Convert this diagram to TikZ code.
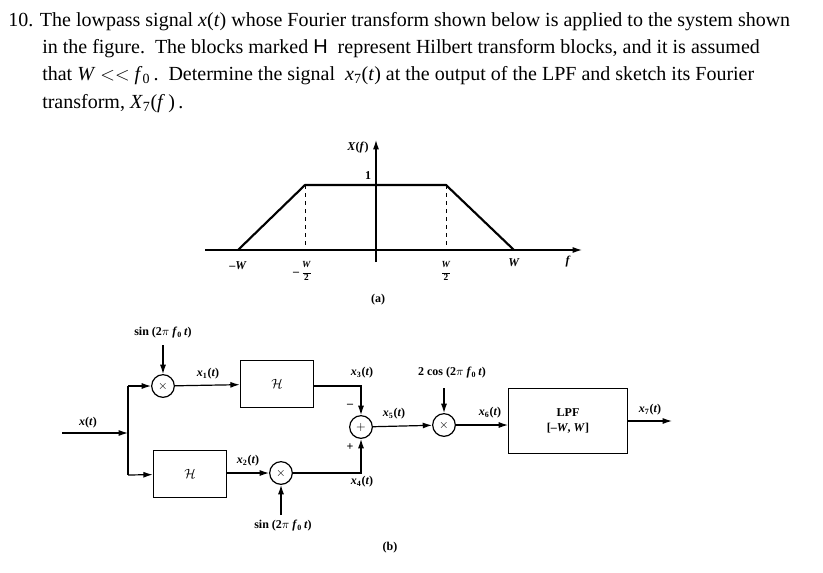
\documentclass[tikz,border=0pt]{standalone}
\usepackage{fontspec}
\setmainfont{Liberation Serif}
\newfontfamily\sansf{Liberation Sans}
\usetikzlibrary{arrows.meta}
\newcommand{\iv}[1]{\textit{#1}}
\newcommand{\fr}[1]{\ensuremath{\vcenter{\hbox{\scriptsize\begin{tabular}{@{}c@{}}\iv{#1}\\[-3pt]\rule{6pt}{0.5pt}\\[-3pt]2\end{tabular}}}}}
\begin{document}
\begin{tikzpicture}[x=0.75pt,y=-0.75pt,
  wire/.style={line width=0.9pt},
  arr/.style={wire,-{Latex[length=7pt,width=4.5pt]}},
  blk/.style={draw,line width=0.9pt,minimum width=55pt,minimum height=35pt},
  op/.style={draw,circle,line width=0.9pt,minimum size=17pt,inner sep=0pt,font=\small},
  lab/.style={font=\small\bfseries},
  hd/.style={anchor=west,font=\fontsize{15}{17}\selectfont,inner sep=0pt}]
\useasboundingbox (0,0) rectangle (823,572);
% header
\node[hd] (h1) at (8,22) {10. The lowpass signal \iv{x}(\iv{t}) whose Fourier transform shown below is applied to the system shown};
\node[hd] (h2) at (42,49) {in the figure.\ \ The blocks marked {\sansf H} \ represent Hilbert transform blocks, and it is assumed};
\node[hd] (h3) at (42,76) {that \iv{W} $<<$ \iv{f}\textsubscript{0}\,.\ \ Determine the signal \ \iv{x}\textsubscript{7}(\iv{t}) at the output of the LPF and sketch its Fourier};
\node[hd] (h4) at (42,104) {transform, \iv{X}\textsubscript{7}(\iv{f}\,)\,.};
% spectrum
\coordinate (ax0) at (205,250); \coordinate (ax1) at (582,250);
\coordinate (ay0) at (376,262); \coordinate (ay1) at (376,140);
\draw[arr] (ax0) -- (ax1);
\draw[arr] (ay0) -- (ay1);
\coordinate (p1) at (238,250); \coordinate (p2) at (305,185);
\coordinate (p3) at (446,185); \coordinate (p4) at (514,250);
\draw[line width=1.6pt] (p1) -- (p2) -- (p3) -- (p4);
\draw[dashed] (p2) -- (305,250);
\draw[dashed] (p3) -- (446,250);
\node[lab] (Xf) at (358,148) {\iv{X}(\iv{f})};
\node[lab] (one) at (368,176) {1};
\node[lab] (mw) at (238,266) {--\iv{W}};
\node[lab,inner sep=0pt] (mw2) at (302,272) {-- \fr{W}};
\node[lab,inner sep=0pt] (w2) at (446,272) {\fr{W}};
\node[lab] (w) at (514,263) {\iv{W}};
\node[lab] (f) at (568,262) {\iv{f}};
\node[lab] (a) at (378,300) {(a)};
% block diagram
\node[op] (m1) at (163,386) {$\times$};
\node[blk] (H1) at (277,384) {$\mathcal{H}$};
\node[blk] (H2) at (190,474) {$\mathcal{H}$};
\node[op] (m2) at (281,473) {$\times$};
\node[op] (s) at (361,427) {$+$};
\node[op] (m3) at (444,425) {$\times$};
\node[draw,line width=0.9pt,minimum width=89pt,minimum height=49pt,align=center,font=\small\bfseries] (lpf) at (568,421) {LPF\\{}[--\iv{W}, \iv{W}]};
\coordinate (in) at (62,433); \coordinate (br) at (128,433);
\coordinate (bt) at (128,386); \coordinate (bb) at (128,475);
\coordinate (out) at (672,421);
\coordinate (s1) at (163,345); \coordinate (s2) at (281,515); \coordinate (c3) at (444,388);
\node[lab] at (88,423) {\iv{x}(\iv{t})};
\node[lab] at (163,333) {sin (2$\pi$ \iv{f}\textsubscript{0}\,\iv{t})};
\node[lab] at (283,526) {sin (2$\pi$ \iv{f}\textsubscript{0}\,\iv{t})};
\node[lab] at (452,373) {2 cos (2$\pi$ \iv{f}\textsubscript{0}\,\iv{t})};
\node[lab] at (208,374) {\iv{x}\textsubscript{1}(\iv{t})};
\node[lab] at (248,461) {\iv{x}\textsubscript{2}(\iv{t})};
\node[lab] at (362,373) {\iv{x}\textsubscript{3}(\iv{t})};
\node[lab] at (362,482) {\iv{x}\textsubscript{4}(\iv{t})};
\node[lab] at (394,414) {\iv{x}\textsubscript{5}(\iv{t})};
\node[lab] at (490,413) {\iv{x}\textsubscript{6}(\iv{t})};
\node[lab] at (650,410) {\iv{x}\textsubscript{7}(\iv{t})};
\node[lab] at (350,406) {--};
\node[lab] at (350,447) {+};
\node[lab] at (390,548) {(b)};
\draw[arr] (in) -- (br);
\draw[wire] (bt) -- (bb);
\draw[arr] (bt) -- (m1);
\draw[arr] (bb) -- (H2);
\draw[arr] (s1) -- (m1);
\draw[arr] (m1) -- (H1);
\draw[arr] (H1.east |- m1) -| (s);
\draw[arr] (H2.east |- m2) -- (m2);
\draw[arr] (s2) -- (m2);
\draw[arr] (m2) -| (s);
\draw[arr] (s) -- (m3);
\draw[arr] (c3) -- (m3);
\draw[arr] (m3) -- (m3 -| lpf.west);
\draw[arr] (lpf.east |- out) -- (out);
\end{tikzpicture}
\end{document}
